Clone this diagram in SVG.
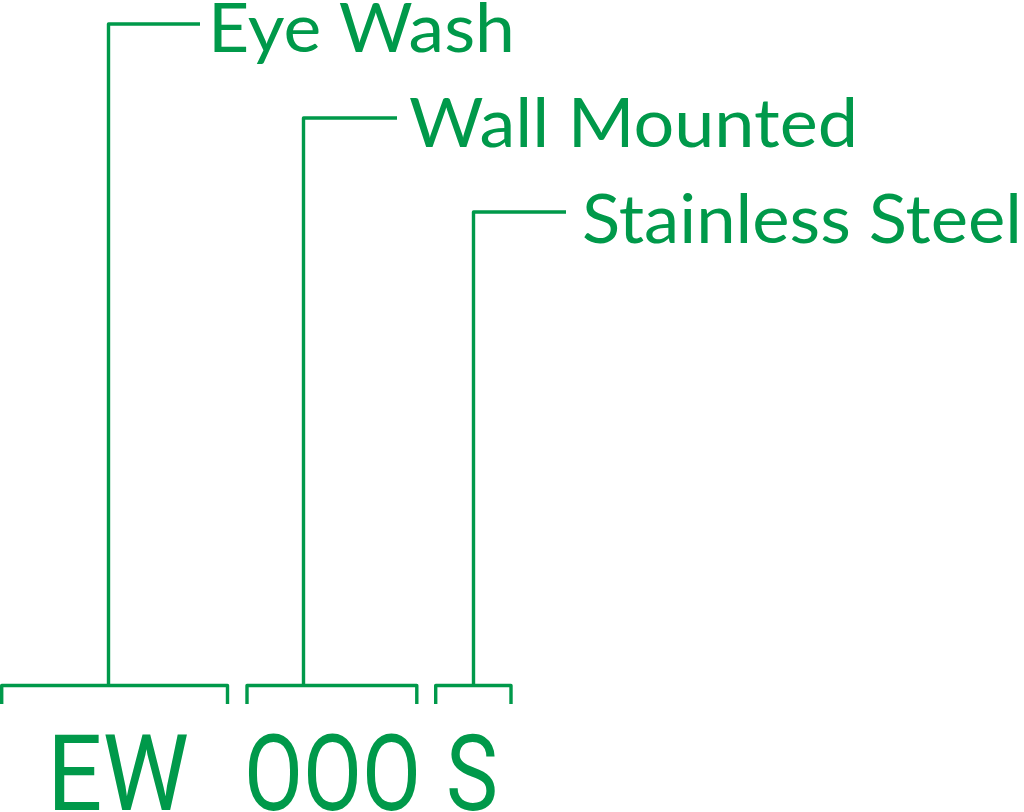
<svg xmlns="http://www.w3.org/2000/svg" width="1024" height="812" viewBox="0 0 1024 812">
  <style>
    .ln { fill: none; stroke: #00994A; stroke-width: 3.4; stroke-linejoin: round; }
    .lbl { font-family: Lato, "Noto Sans", "Liberation Sans", sans-serif; font-size: 68px; font-weight: 400; fill: #00994A; }
    .code { font-family: Roboto, "Liberation Sans", sans-serif; font-size: 106px; fill: #00994A; }
  </style>
  <rect width="1024" height="812" fill="#FFFFFF"/>
  <g id="connectors">
    <path class="ln" d="M200,24 H108.5 V685.5"/>
    <path class="ln" d="M397,118 H303.5 V685.5"/>
    <path class="ln" d="M566,212 H473.5 V685.5"/>
    <path class="ln" d="M1.7,704 V685.5 H227.5 V704"/>
    <path class="ln" d="M247,704 V685.5 H416.8 V704"/>
    <path class="ln" d="M435.7,704 V685.5 H511 V704"/>
  </g>
  <g id="label-eye-wash">
    <text class="lbl" x="208" y="52" textLength="307" lengthAdjust="spacingAndGlyphs">Eye Wash</text>
  </g>
  <g id="label-wall-mounted">
    <text class="lbl" x="409" y="147" textLength="449" lengthAdjust="spacingAndGlyphs">Wall Mounted</text>
  </g>
  <g id="label-stainless-steel">
    <text class="lbl" x="582" y="243" textLength="440" lengthAdjust="spacingAndGlyphs">Stainless Steel</text>
  </g>
  <g id="code-ew">
    <text class="code" x="47" y="810" textLength="142" lengthAdjust="spacingAndGlyphs">EW</text>
  </g>
  <g id="code-000">
    <text class="code" x="244" y="810" textLength="177" lengthAdjust="spacingAndGlyphs">OOO</text>
  </g>
  <g id="code-s">
    <text class="code" x="446" y="810" textLength="52" lengthAdjust="spacingAndGlyphs">S</text>
  </g>
</svg>
